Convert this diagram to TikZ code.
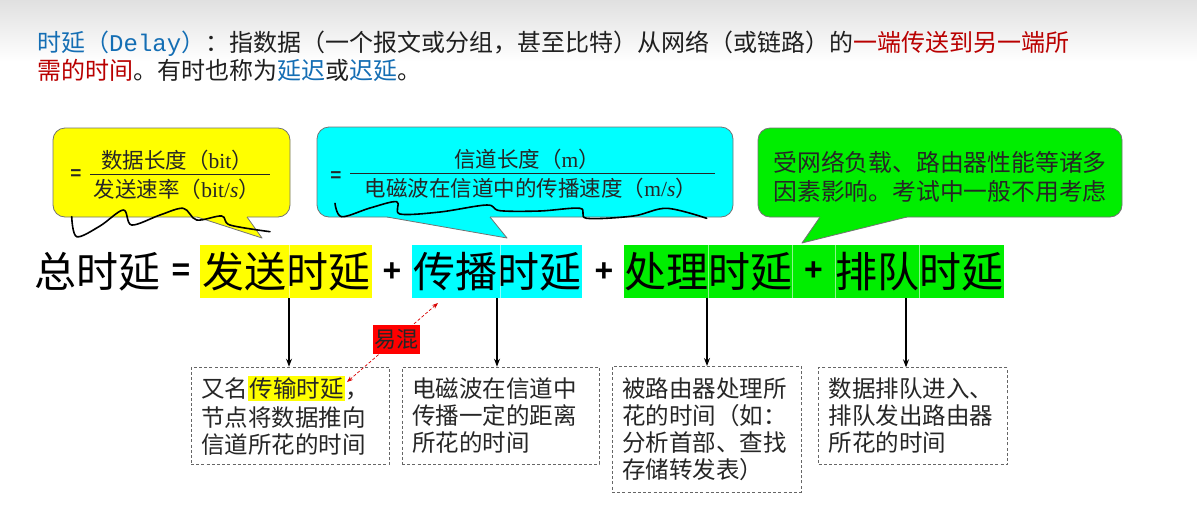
\documentclass[tikz,border=0pt]{standalone}
\usepackage{fontspec}
\setmainfont{Noto Sans CJK SC}
\newfontfamily\latser{Liberation Serif}
\newfontfamily\latmono{Liberation Mono}
\newfontfamily\latsans{Liberation Sans}
\usetikzlibrary{arrows.meta}
\definecolor{tblue}{RGB}{20,110,180}
\definecolor{tred}{RGB}{185,0,0}
\definecolor{bgreen}{RGB}{0,238,0}
\definecolor{bcyan}{RGB}{0,255,255}
\definecolor{byellow}{RGB}{255,255,0}
\begin{document}
\begin{tikzpicture}[x=1pt,y=-1pt,
  bubble/.style={draw=black!55, line width=0.8pt, rounded corners=12pt},
  tailedge/.style={draw=black!55, line width=0.8pt, line join=round},
  scrib/.style={draw=black, line width=1.6pt, line cap=round, line join=round},
  rowbox/.style={inner sep=0pt, minimum height=53pt, font=\fontsize{42}{42}\selectfont, text=black},
  rowtxt/.style={inner sep=0pt, font=\fontsize{42}{42}\selectfont, text=black},
  plussign/.style={inner sep=0pt, font=\latsans\bfseries\fontsize{32}{32}\selectfont, text=black},
  sep/.style={draw=white, line width=0.5pt, opacity=0.55},
  dbox/.style={draw=black!60, dash pattern=on 3pt off 2.2pt, line width=0.7pt, anchor=north west, inner xsep=10pt, inner ysep=0pt, align=left, font=\fontsize{23.5}{27}\selectfont, text=black!85},
  arr/.style={-{Stealth[length=8pt,width=6pt]}, line width=1.1pt, draw=black},
  mixarr/.style={{Stealth[length=6pt,width=4.5pt]}-{Stealth[length=6pt,width=4.5pt]}, draw=red!85!black, line width=0.7pt, dash pattern=on 3pt off 2pt},
  frac/.style={inner sep=0pt, font=\fontsize{21.5}{21.5}\selectfont, text=black!85},
  fraceq/.style={inner sep=0pt, font=\latsans\bfseries\fontsize{19}{19}\selectfont, text=black!85},
  title/.style={anchor=base west, inner sep=0pt, font=\fontsize{24}{24}\selectfont, text=black!88},
]
\useasboundingbox (0,0) rectangle (1197,523);
\fill[white] (0,0) rectangle (1197,523);
\shade[top color=black!12, bottom color=white] (0,0) rectangle (1197,62);

% ---- title ----
\node[title] (t1) at (37,51) {\textcolor{tblue}{时延（{\latmono Delay}）}：指数据（一个报文或分组，甚至比特）从网络（或链路）的\textcolor{tred}{一端传送到另一端所}};
\node[title] (t2) at (37,79) {\textcolor{tred}{需的时间}。有时也称为\textcolor{tblue}{延迟}或\textcolor{tblue}{迟延}。};

% ---- yellow bubble ----
\draw[bubble, fill=byellow] (53,128) rectangle (290,217);
\fill[byellow] (197,212) -- (197,217) -- (262,238) -- (247,217) -- (247,212) -- cycle;
\draw[tailedge] (197,217) -- (262,238) -- (247,217);
\node[fraceq] (yeq) at (76,175) {=};
\node[frac] (ynum) at (177,160) {数据长度（{\latser bit}）};
\node[frac] (yden) at (177,189) {发送速率（{\latser bit/\itshape s}）};
\draw[line width=0.8pt, black!85] (90,174) -- (270,174);
\draw[scrib] plot[smooth, tension=0.55] coordinates {(71.7,216.7) (76.7,236.7) (100,226) (123.3,210) (131.7,225) (160,215) (183.3,208.3) (196.7,220) (221.7,216) (230,225) (270,231.7)};

% ---- cyan bubble ----
\draw[bubble, fill=bcyan] (317,127) rectangle (733,217);
\fill[bcyan] (387,212) -- (387,217) -- (507,238) -- (490,217) -- (490,212) -- cycle;
\draw[tailedge] (387,217) -- (507,238) -- (490,217);
\node[fraceq] (ceq) at (336,177) {=};
\node[frac] (cnum) at (527,159) {信道长度（{\latser m}）};
\node[frac] (cden) at (531,188) {电磁波在信道中的传播速度（{\latser m/\itshape s}）};
\draw[line width=0.8pt, black!85] (350,173) -- (715,173);
\draw[scrib] plot[smooth, tension=0.55] coordinates {(335,203.3) (341.7,216.7) (370,208) (396.7,201.7) (400,214) (440,212) (486.7,205) (500,210.7) (540,211) (580,208.3) (586.7,218.3) (633.3,216) (666.7,208.3) (706.7,218.3)};

% ---- green bubble ----
\draw[bubble, fill=bgreen] (758,128) rectangle (1122,217);
\fill[bgreen] (820,212) -- (820,217) -- (802,243) -- (907,217) -- (907,212) -- cycle;
\draw[tailedge] (820,217) -- (802,243) -- (907,217);
\node[inner sep=0pt, align=left, font=\fontsize{23.8}{28.5}\selectfont, text=black!85] (gtxt) at (940,177) {受网络负载、路由器性能等诸多\\因素影响。考试中一般不用考虑};

% ---- main row ----
\node[rowtxt, anchor=west] (total) at (34,271.5) {总时延};
\node[plussign] (eq) at (181,272) {=};
\node[rowbox, fill=byellow, minimum width=172pt] (send) at (286,271.5) {发送时延};
\node[plussign] (p1) at (392,272) {+};
\node[rowbox, fill=bcyan, minimum width=170pt] (prop) at (497,271.5) {传播时延};
\node[plussign] (p2) at (604,272) {+};
\node[rowbox, fill=bgreen, minimum width=168pt] (proc) at (708,271.5) {处理时延};
\node[rowbox, fill=bgreen, minimum width=43pt] (p3) at (813.5,271.5) {};
\node[plussign] (p3t) at (p3) {+};
\node[rowbox, fill=bgreen, minimum width=169pt] (queue) at (919.5,271.5) {排队时延};
\draw[sep] (289,245) -- (289,298);
\draw[sep] (500,245) -- (500,298);
\draw[sep] (708,245) -- (708,298);
\draw[sep] (792,245) -- (792,298);
\draw[sep] (835,245) -- (835,298);
\draw[sep] (919,245) -- (919,298);

% ---- dashed explanation boxes ----
\setlength{\fboxsep}{1.5pt}
\node[dbox, text width=178.6pt, minimum height=97.3pt] (d1) at (190.7,366.7) {又名\colorbox{byellow}{传输时延}，\\[2pt]节点将数据推向\\信道所花的时间};
\node[dbox, text width=177.6pt, minimum height=97.3pt] (d2) at (401.7,366.7) {电磁波在信道中\\传播一定的距离\\所花的时间};
\node[dbox, text width=169pt, minimum height=125.7pt] (d3) at (611.7,366) {被路由器处理所\\花的时间（如：\\分析首部、查找\\存储转发表）};
\node[dbox, text width=169pt, minimum height=96.7pt] (d4) at (818.3,367.3) {数据排队进入、\\排队发出路由器\\所花的时间};

% ---- arrows ----
\coordinate (c1) at (289,0);
\coordinate (c2) at (497,0);
\coordinate (c3) at (707,0);
\coordinate (c4) at (906,0);
\draw[arr] (send.south -| c1) -- (d1.north -| c1);
\draw[arr] (prop.south -| c2) -- (d2.north -| c2);
\draw[arr] (proc.south -| c3) -- (d3.north -| c3);
\draw[arr] (queue.south -| c4) -- (d4.north -| c4);

% ---- confusion marker ----
\coordinate (mixA) at (347,382);
\coordinate (mixB) at (438,303);
\draw[mixarr] (mixA) -- (mixB);
\node[fill=red, inner sep=0pt, minimum width=47pt, minimum height=29pt, font=\fontsize{22}{22}\selectfont, text=black!85] (mix) at (396.5,339.5) {易混};
\end{tikzpicture}
\end{document}
